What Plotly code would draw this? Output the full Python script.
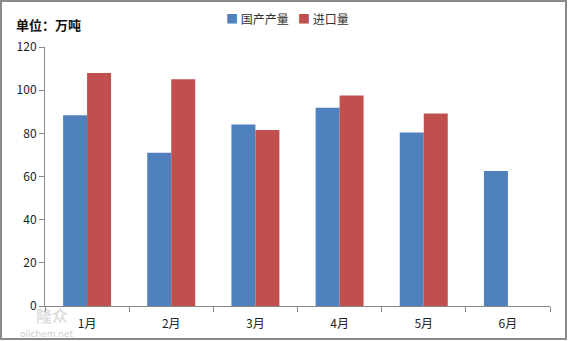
import plotly.graph_objects as go

months = ["1月", "2月", "3月", "4月", "5月", "6月"]
domestic = [88.4, 71.0, 84.1, 91.8, 80.4, 62.6]
imports = [108.0, 105.1, 81.5, 97.5, 89.2, None]
y_ticks = [0, 20, 40, 60, 80, 100, 120]
series_names = ["国产产量", "进口量"]
colors = ["#4F81BD", "#C0504D"]

W, H = 568, 341
ml, mr, mt, mb = 45, 18, 47, 35
pw, ph = W - ml - mr, H - mt - mb

font = "Microsoft YaHei, Noto Sans CJK SC, sans-serif"

fig = go.Figure()
for name, vals, c in zip(series_names, [domestic, imports], colors):
    fig.add_trace(go.Bar(name=name, x=months, y=vals, marker=dict(color=c, line=dict(width=0))))

fig.update_layout(
    width=W, height=H,
    margin=dict(l=ml, r=mr, t=mt, b=mb, autoexpand=False),
    paper_bgcolor="white", plot_bgcolor="white",
    barmode="group", bargap=0.43, bargroupgap=0,
    font=dict(family=font, size=12, color="#222"),
    showlegend=False,
    xaxis=dict(type="category", showline=True, linecolor="#888", linewidth=1,
               ticks="outside", tickson="boundaries", ticklen=5, tickcolor="#888",
               ticklabelstandoff=7,
               showgrid=False, tickfont=dict(size=12, color="#222"), automargin=False),
    yaxis=dict(range=[0, 120], tickvals=y_ticks, showline=True, linecolor="#888", linewidth=1,
               ticks="outside", ticklen=5, tickcolor="#888", showgrid=False, zeroline=False,
               tickfont=dict(size=12, color="#222"), automargin=False),
)

def px_x(x):
    return (x - ml) / pw

def px_y(y):
    return (H - mb - y) / ph

# legend drawn as text items
fig.add_annotation(text=f"<span style='color:{colors[0]}'>■</span> {series_names[0]}", xref="paper", yref="paper",
                   x=px_x(224), y=px_y(18), xanchor="left", yanchor="middle", showarrow=False,
                   font=dict(size=12, color="#333", family=font))
fig.add_annotation(text=f"<span style='color:{colors[1]}'>■</span> {series_names[1]}", xref="paper", yref="paper",
                   x=px_x(296), y=px_y(18), xanchor="left", yanchor="middle", showarrow=False,
                   font=dict(size=12, color="#333", family=font))

# title
fig.add_annotation(text="<b>单位：万吨</b>", xref="paper", yref="paper",
                   x=px_x(14), y=px_y(25), xanchor="left", yanchor="middle",
                   showarrow=False, font=dict(size=13, color="#111", family=font))

# watermark
fig.add_annotation(text="<b>隆众</b>", xref="paper", yref="paper",
                   x=px_x(34), y=px_y(315), xanchor="left", yanchor="middle",
                   showarrow=False, font=dict(size=16, color="rgba(180,180,180,0.45)", family=font))
fig.add_annotation(text="oilchem.net", xref="paper", yref="paper",
                   x=px_x(18), y=px_y(334), xanchor="left", yanchor="middle",
                   showarrow=False, font=dict(size=9, color="rgba(170,170,170,0.6)", family="DejaVu Sans"))

# outer border
fig.add_shape(type="rect", xref="paper", yref="paper",
              x0=px_x(1), x1=px_x(W - 2), y0=px_y(H - 2), y1=px_y(1),
              line=dict(color="#8a8a8a", width=2), fillcolor="rgba(0,0,0,0)", layer="above")

fig.write_html("out.html")
